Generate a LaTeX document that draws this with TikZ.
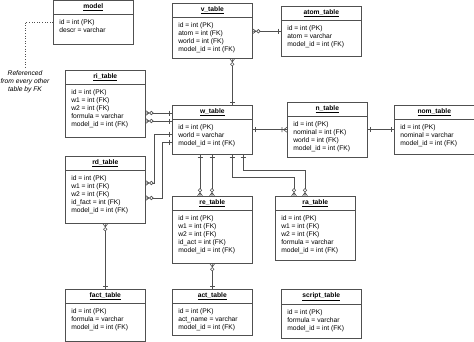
\documentclass[tikz,border=0pt]{standalone}
\usepackage{fontspec}
\setmainfont{Liberation Sans}
\usetikzlibrary{shapes.multipart, arrows.meta}

\definecolor{erline}{HTML}{505050}

% crow's foot with circle (zero or many)
\pgfdeclarearrow{
  name = ZeroMany,
  setup code = {
    \pgfarrowssettipend{0pt}
    \pgfarrowssetbackend{-7.5pt}
    \pgfarrowssetlineend{-7.5pt}
  },
  drawing code = {
    \pgfsetdash{}{0pt}
    \pgfpathmoveto{\pgfpoint{0pt}{2.5pt}}
    \pgfpathlineto{\pgfpoint{-3.5pt}{0pt}}
    \pgfpathlineto{\pgfpoint{0pt}{-2.5pt}}
    \pgfpathmoveto{\pgfpoint{0pt}{0pt}}
    \pgfpathlineto{\pgfpoint{-4pt}{0pt}}
    \pgfusepathqstroke
    \pgfpathcircle{\pgfpoint{-5.75pt}{0pt}}{1.75pt}
    \pgfusepathqstroke
  }
}
% bar with crow's foot (one or many)
\pgfdeclarearrow{
  name = OneMany,
  setup code = {
    \pgfarrowssettipend{0pt}
    \pgfarrowssetbackend{-5pt}
    \pgfarrowssetlineend{0pt}
  },
  drawing code = {
    \pgfsetdash{}{0pt}
    \pgfpathmoveto{\pgfpoint{0pt}{2.5pt}}
    \pgfpathlineto{\pgfpoint{-3.5pt}{0pt}}
    \pgfpathlineto{\pgfpoint{0pt}{-2.5pt}}
    \pgfpathmoveto{\pgfpoint{-5pt}{2.5pt}}
    \pgfpathlineto{\pgfpoint{-5pt}{-2.5pt}}
    \pgfusepathqstroke
  }
}
% single bar (one)
\pgfdeclarearrow{
  name = One,
  setup code = {
    \pgfarrowssettipend{0pt}
    \pgfarrowssetbackend{-3pt}
    \pgfarrowssetlineend{0pt}
  },
  drawing code = {
    \pgfsetdash{}{0pt}
    \pgfpathmoveto{\pgfpoint{-3pt}{2.5pt}}
    \pgfpathlineto{\pgfpoint{-3pt}{-2.5pt}}
    \pgfusepathqstroke
  }
}

\newcommand{\tname}[1]{\rule[-2pt]{0pt}{5pt}\underline{\textbf{#1}}}
\newcommand{\fld}[2][3pt]{\rule{0pt}{7pt}#2\rule[-#1]{0pt}{#1}}

\begin{document}
\begin{tikzpicture}[
    x=1pt, y=-1pt,
    tbl/.style={rectangle split, rectangle split parts=2, rectangle split part align={center, left}, draw=erline, line width=0.6pt, minimum width=80pt, inner xsep=6pt, inner ysep=3pt, align=left, anchor=north west, font=\fontsize{6.7}{8}\selectfont},
    note/.style={align=center, anchor=north, inner sep=1pt, font=\fontsize{6.7}{8}\selectfont\itshape},
    rel/.style={draw=erline, line width=0.6pt},
    manyone/.style={rel, {ZeroMany}-{One}},
    onemany/.style={rel, {One}-{ZeroMany}},
    oneplus/.style={rel, {One}-{OneMany}},
    oneone/.style={rel, {One}-{One}}
]
\useasboundingbox (0,0) rectangle (474,341);

% Tables
\node (model) [tbl] at (53,0) {\tname{model}\nodepart{two}\fld[9pt]{id = int (PK)\\descr = varchar}};
\node (v) [tbl] at (172,3) {\tname{v\_table}\nodepart{two}\fld{id = int (PK)\\atom = int (FK)\\world = int (FK)\\model\_id = int (FK)}};
\node (atom) [tbl] at (281,6) {\tname{atom\_table}\nodepart{two}\fld[6pt]{id = int (PK)\\atom = varchar\\model\_id = int (FK)}};
\node (ri) [tbl] at (65,70) {\tname{ri\_table}\nodepart{two}\fld[7pt]{id = int (PK)\\w1 = int (FK)\\w2 = int (FK)\\formula = varchar\\model\_id = int (FK)}};
\node (w) [tbl] at (172,105) {\tname{w\_table}\nodepart{two}\fld[5pt]{id = int (PK)\\world = varchar\\model\_id = int (FK)}};
\node (n) [tbl] at (287,102) {\tname{n\_table}\nodepart{two}\fld{id = int (PK)\\nominal = int (FK)\\world = int (FK)\\model\_id = int (FK)}};
\node (nom) [tbl] at (394,105) {\tname{nom\_table}\nodepart{two}\fld[5pt]{id = int (PK)\\nominal = varchar\\model\_id = int (FK)}};
\node (rd) [tbl] at (65,156) {\tname{rd\_table}\nodepart{two}\fld[7pt]{id = int (PK)\\w1 = int (FK)\\w2 = int (FK)\\id\_fact = int (FK)\\model\_id = int (FK)}};
\node (re) [tbl] at (172,196) {\tname{re\_table}\nodepart{two}\fld[7pt]{id = int (PK)\\w1 = int (FK)\\w2 = int (FK)\\id\_act = int (FK)\\model\_id = int (FK)}};
\node (ra) [tbl] at (275,196) {\tname{ra\_table}\nodepart{two}\fld[4pt]{id = int (PK)\\w1 = int (FK)\\w2 = int (FK)\\formula = varchar\\model\_id = int (FK)}};
\node (fact) [tbl] at (65,289) {\tname{fact\_table}\nodepart{two}\fld[8pt]{id = int (PK)\\formula = varchar\\model\_id = int (FK)}};
\node (act) [tbl] at (172,289) {\tname{act\_table}\nodepart{two}\fld[2pt]{id = int (PK)\\act\_name = varchar\\model\_id = int (FK)}};
\node (script) [tbl] at (281,289) {\tname{script\_table}\nodepart{two}\fld[5pt]{id = int (PK)\\formula = varchar\\model\_id = int (FK)}};

% Note
\node (note) [note] at (25,69) {Referenced\\from every other\\table by FK};
\draw [erline, dotted, line width=0.6pt] ([yshift=-22pt]model.north west) -| (note.north);

% Relations
\draw [manyone] (v.east |- atom.west) -- (atom.west);
\draw [manyone] ([xshift=20pt]v.south) -- ([xshift=20pt]w.north);
\draw [manyone] ([yshift=-8pt]w.north west -| ri.east) -- ([yshift=-8pt]w.north west);
\draw [manyone] ([yshift=-16pt]w.north west -| ri.east) -- ([yshift=-16pt]w.north west);
\draw [manyone] ([yshift=-27pt]rd.north east) -| ([xshift=-18pt, yshift=-29pt]w.north west) -- ([yshift=-29pt]w.north west);
\draw [manyone] ([yshift=-42pt]rd.north east) -| ([xshift=-10pt, yshift=-37pt]w.north west) -- ([yshift=-37pt]w.north west);
\draw [onemany] ([xshift=28pt]w.south west) -- ([xshift=28pt]re.north west);
\draw [onemany] ([xshift=40pt]w.south west) -- ([xshift=40pt]re.north west);
\draw [onemany] ([xshift=60pt]w.south west) -- ++(0,23) -| ([xshift=19pt]ra.north west);
\draw [onemany] ([xshift=71pt]w.south west) -- ++(0,16) -| ([xshift=30pt]ra.north west);
\draw [oneplus] (w.east) -- (w.east -| n.west);
\draw [oneone] (n.east |- nom.west) -- (nom.west);
\draw [manyone] (rd.south) -- (fact.north);
\draw [manyone] (re.south) -- (act.north);

\end{tikzpicture}
\end{document}
